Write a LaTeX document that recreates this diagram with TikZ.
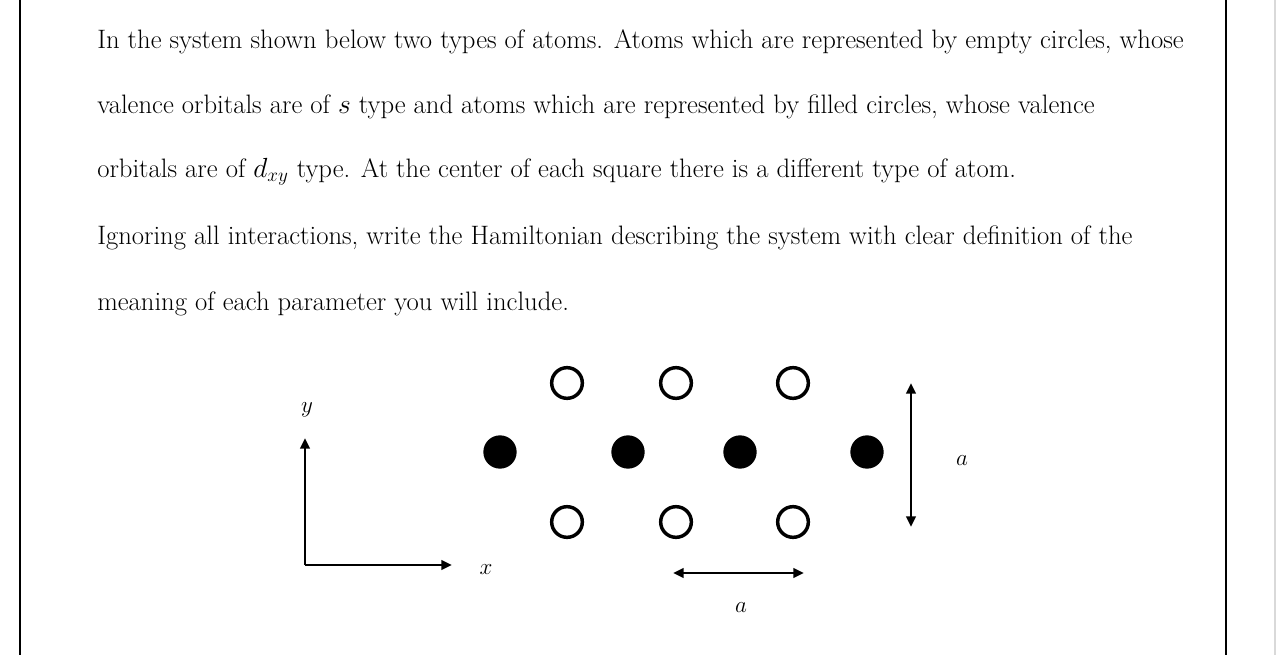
\documentclass[tikz,border=0pt]{standalone}
\usetikzlibrary{arrows.meta}
\begin{document}
\begin{tikzpicture}[x=0.75pt,y=-0.75pt,
  txt/.style={anchor=west,inner sep=0pt,font=\fontsize{20}{24}\selectfont},
  emp/.style={circle,draw,line width=2.6pt,minimum size=23pt,inner sep=0pt},
  ful/.style={circle,fill,minimum size=25pt,inner sep=0pt},
  arr/.style={line width=2.2pt,-{Triangle[length=8pt,width=7pt]}},
  lab/.style={font=\fontsize{16}{18}\selectfont}]
\useasboundingbox (0,0) rectangle (1284,655);
\draw[line width=2.2pt] (20,0) -- (20,655);
\draw[line width=2.2pt] (1226,0) -- (1226,655);
\draw[line width=1pt,black!15] (1275,0) -- (1275,655);
\node[txt] (l1) at (97,42) {In the system shown below two types of atoms. Atoms which are represented by empty circles, whose};
\node[txt] (l2) at (97,107) {valence orbitals are of $s$ type and atoms which are represented by filled circles, whose valence};
\node[txt] (l3) at (97,172) {orbitals are of $d_{xy}$ type. At the center of each square there is a different type of atom.};
\node[txt] (l4) at (97,238) {Ignoring all interactions, write the Hamiltonian describing the system with clear definition of the};
\node[txt] (l5) at (97,304) {meaning of each parameter you will include.};
\foreach \x/\n in {567/a,676/b,793/c}{
  \node[emp] (t\n) at (\x,383) {};
  \node[emp] (b\n) at (\x,522) {};}
\foreach \x/\n in {500/a,628/b,740/c,867/d}
  \node[ful] (f\n) at (\x,452) {};
\coordinate (o) at (305,565);
\coordinate (yt) at (305,438);
\coordinate (xt) at (452,565);
\draw[arr] (o) -- (yt);
\draw[arr] (o) -- (xt);
\node[lab] (ly) at (307,410) {$y$};
\node[lab] (lx) at (486,570) {$x$};
\coordinate (v1) at (911,383);
\coordinate (v2) at (911,527);
\draw[arr,{Triangle[length=8pt,width=7pt]}-{Triangle[length=8pt,width=7pt]}] (v1) -- (v2);
\node[lab] (la1) at (962,461) {$a$};
\coordinate (h1) at (673,573);
\coordinate (h2) at (804,573);
\draw[arr,{Triangle[length=8pt,width=7pt]}-{Triangle[length=8pt,width=7pt]}] (h1) -- (h2);
\node[lab] (la2) at (741,608) {$a$};
\end{tikzpicture}
\end{document}
